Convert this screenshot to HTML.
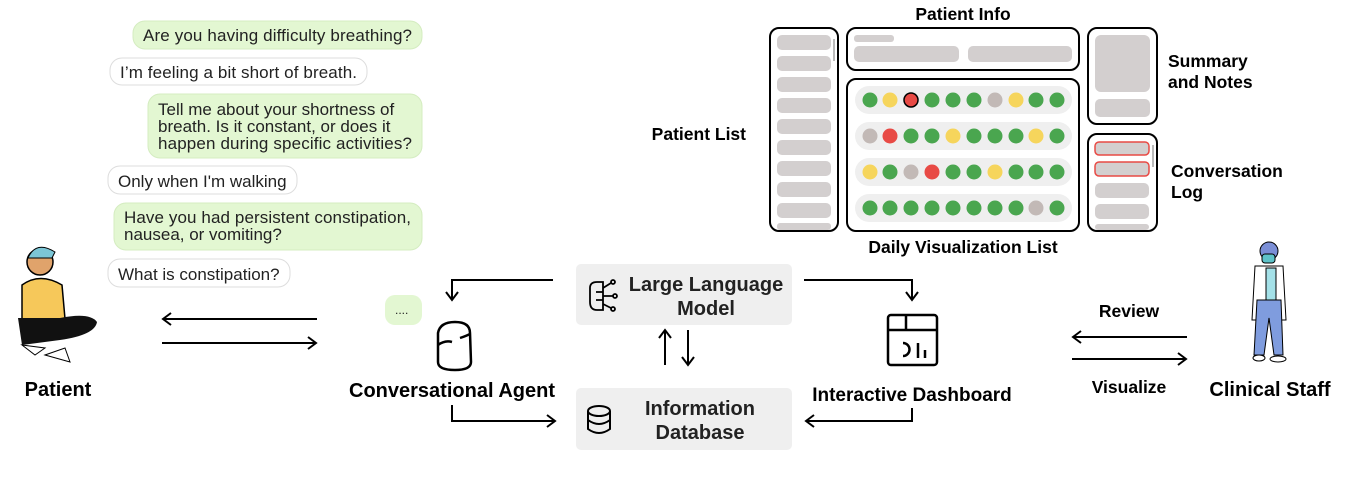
<!DOCTYPE html>
<html><head><meta charset="utf-8"><style>
body{margin:0;background:#fff;width:1353px;height:493px;overflow:hidden}
svg text{font-family:"Liberation Sans",sans-serif}
</style></head><body>
<svg width="1353" height="493" viewBox="0 0 1353 493" xmlns="http://www.w3.org/2000/svg">
<defs>
<marker id="ah" markerWidth="14" markerHeight="14" refX="11" refY="7" orient="auto" markerUnits="userSpaceOnUse">
<path d="M3,1 L11,7 L3,13" fill="none" stroke="#000" stroke-width="2"/></marker>
</defs>
<!-- chat bubbles -->
<g font-size="17" fill="#222">
<rect x="133" y="21" width="289" height="28" rx="12" fill="#e3f7d2" stroke="#d4ecc0"/>
<text x="143" y="41" textLength="269">Are you having difficulty breathing?</text>
<rect x="110" y="58" width="257" height="27" rx="12" fill="#fff" stroke="#ddd"/>
<text x="120" y="78" textLength="237">I’m feeling a bit short of breath.</text>
<rect x="148" y="94" width="274" height="64" rx="12" fill="#e3f7d2" stroke="#d4ecc0"/>
<text x="158" y="115">Tell me about your shortness of</text>
<text x="158" y="132">breath. Is it constant, or does it</text>
<text x="158" y="149" textLength="254">happen during specific activities?</text>
<rect x="108" y="166" width="189" height="28" rx="12" fill="#fff" stroke="#ddd"/>
<text x="118" y="187">Only when I'm walking</text>
<rect x="114" y="203" width="308" height="47" rx="12" fill="#e3f7d2" stroke="#d4ecc0"/>
<text x="124" y="223" textLength="287">Have you had persistent constipation,</text>
<text x="124" y="240">nausea, or vomiting?</text>
<rect x="108" y="259" width="182" height="28" rx="12" fill="#fff" stroke="#ddd"/>
<text x="118" y="280">What is constipation?</text>
<rect x="385" y="295" width="37" height="30" rx="10" fill="#e3f7d2"/>
<text x="395" y="314" font-size="12">....</text>
</g>
<!-- patient figure -->
<g>
<circle cx="40" cy="262" r="13" fill="#e0a36b" stroke="#000" stroke-width="1.5"/>
<path d="M28,258 Q36,240 55,252 L52,258 Z" fill="#7cc6d6" stroke="#000"/>
<path d="M22,285 Q40,272 62,285 L66,330 L22,330 Z" fill="#f6c85a" stroke="#000" stroke-width="1.5"/>
<path d="M18,318 L22,345 L60,340 Q95,335 97,322 Q90,312 60,318 Z" fill="#111"/>
<path d="M22,345 L35,355 L45,348 Z M45,355 L70,362 L65,348 Z" fill="#fff" stroke="#000"/>
</g>
<text x="58" y="396" font-size="20" font-weight="bold" text-anchor="middle">Patient</text>
<g stroke="#000" stroke-width="2" fill="none">
<line x1="317" y1="319" x2="163" y2="319" marker-end="url(#ah)"/>
<line x1="162" y1="343" x2="316" y2="343" marker-end="url(#ah)"/>
<polyline points="553,280 452,280 452,300" marker-end="url(#ah)"/>
<polyline points="804,280 912,280 912,300" marker-end="url(#ah)"/>
<polyline points="452,405 452,421 555,421" marker-end="url(#ah)"/>
<polyline points="912,408 912,421 806,421" marker-end="url(#ah)"/>
<line x1="665" y1="365" x2="665" y2="330" marker-end="url(#ah)"/>
<line x1="688" y1="330" x2="688" y2="365" marker-end="url(#ah)"/>
<line x1="1187" y1="337" x2="1073" y2="337" marker-end="url(#ah)"/>
<line x1="1072" y1="359" x2="1186" y2="359" marker-end="url(#ah)"/>
</g>
<!-- agent icon -->
<g stroke="#000" stroke-width="2.5" fill="none">
<path d="M438,333 Q440,322 455,322 Q470,322 470,333 L471,362 Q471,370 455,370 Q438,370 438,362 Z"/>
<path d="M438,345 Q445,340 452,342 M460,338 Q466,336 470,334"/>
</g>
<text x="452" y="397" font-size="20" font-weight="bold" text-anchor="middle">Conversational Agent</text>
<!-- LLM box -->
<rect x="576" y="264" width="216" height="61" rx="5" fill="#efefef"/>
<g stroke="#000" stroke-width="1.8" fill="none">
<path d="M590,288 Q590,282 597,282 L603,282 L603,310 L597,310 Q590,310 590,302 Z"/>
<path d="M596,292 L603,292 M596,300 L603,300 M603,288 L611,283 M603,296 L613,296 M603,304 L611,308"/>
<circle cx="613" cy="282" r="2"/><circle cx="615" cy="296" r="2"/><circle cx="613" cy="309" r="2"/>
</g>
<text x="706" y="291" font-size="20" font-weight="bold" text-anchor="middle" fill="#222">Large Language</text>
<text x="706" y="315" font-size="20" font-weight="bold" text-anchor="middle" fill="#222">Model</text>
<!-- DB box -->
<rect x="576" y="388" width="216" height="62" rx="5" fill="#efefef"/>
<g stroke="#000" stroke-width="2" fill="none">
<ellipse cx="599" cy="411" rx="11" ry="5"/>
<path d="M588,411 L588,429 Q599,437 610,429 L610,411 M588,420 Q599,428 610,420"/>
</g>
<text x="700" y="415" font-size="20" font-weight="bold" text-anchor="middle" fill="#222">Information</text>
<text x="700" y="439" font-size="20" font-weight="bold" text-anchor="middle" fill="#222">Database</text>
<!-- dashboard icon -->
<g stroke="#000" stroke-width="2.5" fill="none">
<rect x="888" y="315" width="49" height="50" rx="3"/>
<line x1="888" y1="330" x2="937" y2="330"/><line x1="906" y1="315" x2="906" y2="330"/>
<path d="M903,343 A6,6 0 1 1 903,356"/>
<line x1="918" y1="343" x2="918" y2="358"/><line x1="925" y1="350" x2="925" y2="358"/>
</g>
<text x="912" y="401" font-size="19" font-weight="bold" text-anchor="middle">Interactive Dashboard</text>
<!-- dashboard mock -->
<text x="963" y="20" font-size="17.5" font-weight="bold" text-anchor="middle">Patient Info</text>
<text x="963" y="253" font-size="17.5" font-weight="bold" text-anchor="middle">Daily Visualization List</text>
<text x="746" y="140" font-size="17.5" font-weight="bold" text-anchor="end">Patient List</text>
<text x="1168" y="67" font-size="17.5" font-weight="bold">Summary</text>
<text x="1168" y="88" font-size="17.5" font-weight="bold">and Notes</text>
<text x="1171" y="177" font-size="17.5" font-weight="bold">Conversation</text>
<text x="1171" y="198" font-size="17.5" font-weight="bold">Log</text>
<g stroke="#000" stroke-width="2" fill="#fff">
<rect x="770" y="28" width="68" height="203" rx="9"/>
<rect x="847" y="28" width="232" height="42" rx="9"/>
<rect x="847" y="79" width="232" height="152" rx="9"/>
<rect x="1088" y="28" width="69" height="96" rx="9"/>
<rect x="1088" y="134" width="69" height="97" rx="9"/>
</g>
<g fill="#d3cfcf">
<rect x="777" y="35" width="54" height="15" rx="5"/><rect x="777" y="56" width="54" height="15" rx="5"/>
<rect x="777" y="77" width="54" height="15" rx="5"/><rect x="777" y="98" width="54" height="15" rx="5"/>
<rect x="777" y="119" width="54" height="15" rx="5"/><rect x="777" y="140" width="54" height="15" rx="5"/>
<rect x="777" y="161" width="54" height="15" rx="5"/><rect x="777" y="182" width="54" height="15" rx="5"/>
<rect x="777" y="203" width="54" height="15" rx="5"/><rect x="777" y="223" width="54" height="7" rx="3"/>
<rect x="854" y="35" width="40" height="7" rx="3"/>
<rect x="854" y="46" width="105" height="16" rx="5"/><rect x="968" y="46" width="104" height="16" rx="5"/>
<rect x="1095" y="35" width="55" height="57" rx="6"/><rect x="1095" y="99" width="55" height="18" rx="5"/>
<rect x="1095" y="142" width="54" height="13" rx="4" stroke="#e84a45" stroke-width="1.5"/>
<rect x="1095" y="162" width="54" height="14" rx="4" stroke="#e84a45" stroke-width="1.5"/>
<rect x="1095" y="183" width="54" height="15" rx="5"/><rect x="1095" y="204" width="54" height="15" rx="5"/>
<rect x="1095" y="224" width="54" height="6" rx="3"/>
</g>
<rect x="833" y="39" width="2" height="22" fill="#bbb"/>
<rect x="1152" y="145" width="2" height="22" fill="#bbb"/>
<g fill="#efefef">
<rect x="855" y="86" width="217" height="28" rx="14"/><rect x="855" y="122" width="217" height="28" rx="14"/>
<rect x="855" y="158" width="217" height="28" rx="14"/><rect x="855" y="194" width="217" height="28" rx="14"/>
</g>
<g>
<circle cx="870" cy="100" r="7.5" fill="#4aa64f"/><circle cx="890" cy="100" r="7.5" fill="#f6d55c"/>
<circle cx="911" cy="100" r="7" fill="#e84a45" stroke="#000" stroke-width="1.5"/><circle cx="932" cy="100" r="7.5" fill="#4aa64f"/>
<circle cx="953" cy="100" r="7.5" fill="#4aa64f"/><circle cx="974" cy="100" r="7.5" fill="#4aa64f"/>
<circle cx="995" cy="100" r="7.5" fill="#c2b9b6"/><circle cx="1016" cy="100" r="7.5" fill="#f6d55c"/>
<circle cx="1036" cy="100" r="7.5" fill="#4aa64f"/><circle cx="1057" cy="100" r="7.5" fill="#4aa64f"/>
<circle cx="870" cy="136" r="7.5" fill="#c2b9b6"/><circle cx="890" cy="136" r="7.5" fill="#e84a45"/>
<circle cx="911" cy="136" r="7.5" fill="#4aa64f"/><circle cx="932" cy="136" r="7.5" fill="#4aa64f"/>
<circle cx="953" cy="136" r="7.5" fill="#f6d55c"/><circle cx="974" cy="136" r="7.5" fill="#4aa64f"/>
<circle cx="995" cy="136" r="7.5" fill="#4aa64f"/><circle cx="1016" cy="136" r="7.5" fill="#4aa64f"/>
<circle cx="1036" cy="136" r="7.5" fill="#f6d55c"/><circle cx="1057" cy="136" r="7.5" fill="#4aa64f"/>
<circle cx="870" cy="172" r="7.5" fill="#f6d55c"/><circle cx="890" cy="172" r="7.5" fill="#4aa64f"/>
<circle cx="911" cy="172" r="7.5" fill="#c2b9b6"/><circle cx="932" cy="172" r="7.5" fill="#e84a45"/>
<circle cx="953" cy="172" r="7.5" fill="#4aa64f"/><circle cx="974" cy="172" r="7.5" fill="#4aa64f"/>
<circle cx="995" cy="172" r="7.5" fill="#f6d55c"/><circle cx="1016" cy="172" r="7.5" fill="#4aa64f"/>
<circle cx="1036" cy="172" r="7.5" fill="#4aa64f"/><circle cx="1057" cy="172" r="7.5" fill="#4aa64f"/>
<circle cx="870" cy="208" r="7.5" fill="#4aa64f"/><circle cx="890" cy="208" r="7.5" fill="#4aa64f"/>
<circle cx="911" cy="208" r="7.5" fill="#4aa64f"/><circle cx="932" cy="208" r="7.5" fill="#4aa64f"/>
<circle cx="953" cy="208" r="7.5" fill="#4aa64f"/><circle cx="974" cy="208" r="7.5" fill="#4aa64f"/>
<circle cx="995" cy="208" r="7.5" fill="#4aa64f"/><circle cx="1016" cy="208" r="7.5" fill="#4aa64f"/>
<circle cx="1036" cy="208" r="7.5" fill="#c2b9b6"/><circle cx="1057" cy="208" r="7.5" fill="#4aa64f"/>
</g>
<!-- staff -->
<text x="1129" y="317" font-size="17.5" font-weight="bold" text-anchor="middle">Review</text>
<text x="1129" y="393" font-size="17.5" font-weight="bold" text-anchor="middle">Visualize</text>
<g stroke="#000" stroke-width="1">
<circle cx="1269" cy="251" r="9" fill="#7b8fd6"/>
<rect x="1262" y="254" width="13" height="9" rx="3" fill="#5ec3c9"/>
<path d="M1255,266 L1283,266 L1286,320 L1252,320 Z" fill="#fff"/>
<rect x="1266" y="268" width="10" height="32" fill="#a4e1e8"/>
<path d="M1257,300 L1281,300 L1283,355 L1274,355 L1269,318 L1264,355 L1254,355 Z" fill="#7f9cde"/>
<ellipse cx="1259" cy="358" rx="6" ry="3" fill="#fff"/><ellipse cx="1278" cy="359" rx="8" ry="3" fill="#fff"/>
</g>
<text x="1270" y="396" font-size="20" font-weight="bold" text-anchor="middle">Clinical Staff</text>
</svg>
</body></html>
